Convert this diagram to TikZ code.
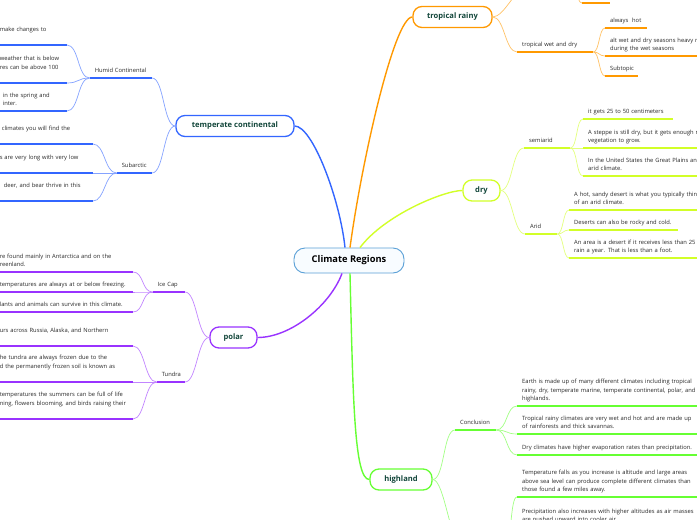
\documentclass[tikz,border=0pt]{standalone}
\usepackage{fontspec}
\setmainfont{Open Sans}
\usetikzlibrary{calc}
\definecolor{trcol}{RGB}{255,153,0}
\definecolor{drycol}{RGB}{210,255,40}
\definecolor{hlcol}{RGB}{102,255,51}
\definecolor{tccol}{RGB}{51,102,255}
\definecolor{polcol}{RGB}{153,51,255}
\definecolor{ctr}{RGB}{90,160,215}
\definecolor{ctrfill}{RGB}{248,252,255}
\definecolor{ink}{RGB}{18,70,58}
\definecolor{txt}{RGB}{40,40,40}

\begin{document}
\begin{tikzpicture}[x=1pt,y=-1pt,
  topic/.style={draw=#1,line width=1.3pt,rounded corners=9pt,fill=white,text=ink,
    font=\fontsize{7.6}{9}\selectfont\bfseries,minimum height=21pt,inner xsep=2pt},
  lbl/.style={font=\fontsize{5.8}{8}\selectfont,text=txt,align=left,text width=#1,
    inner xsep=5pt,inner ysep=3.5pt,execute at end node={\rule[-1.5pt]{0pt}{1pt}}},
  leaf/.style={font=\fontsize{5.8}{8.6}\selectfont,text=txt,align=left,text width=#1,
    inner xsep=5pt,inner ysep=3.5pt,execute at end node={\rule[-1.5pt]{0pt}{1pt}}},
  main/.style={draw=#1,line width=1.4pt},
  twig/.style={draw=#1!60,line width=0.7pt},
  ul/.style={draw=#1,line width=1.7pt}]
\path[fill=white,use as bounding box] (0,0) rectangle (697,520);

% centre
\node[draw=ctr,line width=0.9pt,rounded corners=11pt,fill=ctrfill,minimum width=110pt,
  minimum height=25pt,font=\fontsize{9.3}{11}\selectfont\bfseries] (c) at (349,260.5) {Climate Regions};

% main topics
\node[topic=trcol,minimum width=79pt] (tr) at (452.5,17) {tropical rainy};
\node[topic=drycol,minimum width=37pt] (dry) at (481.5,190.5) {dry};
\node[topic=hlcol,minimum width=62pt] (hl) at (401,479.5) {highland};
\node[topic=tccol,minimum width=118pt] (tc) at (235,126) {temperate continental};
\node[topic=polcol,minimum width=47pt] (pol) at (233.5,337.5) {polar};

\draw[main=tccol] ([xshift=-4pt]c.north) .. controls +(-5,-48) and +(18,0) .. (tc.east);
\draw[main=trcol] ([xshift=1pt]c.north) .. controls +(12,-88) and +(-18,0) .. (tr.west);
\draw[main=drycol] ([xshift=11pt]c.north) .. controls +(25,-33) and +(-18,0) .. (dry.west);
\draw[main=polcol] ([xshift=-7pt]c.south) .. controls +(-12,32) and +(33,0) .. (pol.east);
\draw[main=hlcol] ([xshift=1pt]c.south) .. controls +(3,127) and +(-15,0) .. (hl.west);

% tropical rainy
\node[lbl=66pt,anchor=south west] (twd) at (517,52) {tropical wet and dry};
\node[leaf=32pt,anchor=south west] (tw1) at (605,28) {always~ hot};
\node[leaf=106pt,anchor=south west] (tw2) at (605,56) {alt wet and dry seasons heavy r\\during the wet seasons};
\node[leaf=23pt,anchor=south west] (tw3) at (605,76) {Subtopic};
\coordinate (trtop) at (528,-14);
\coordinate (trk) at (572,-18);
\coordinate (trl) at (582,3);
\coordinate (trle) at (610,3);
\draw[twig=trcol] (tr.east) .. controls +(12,0) and +(-12,0) .. (trtop);
\draw[twig=trcol] (tr.east) .. controls +(12,0) and +(-12,0) .. (twd.south west);
\draw[twig=trcol] (trk) .. controls +(6,0) and +(-6,0) .. (trl);
\draw[ul=trcol] (trl) -- (trle);
\foreach \n in {tw1,tw2,tw3}
  \draw[twig=trcol] (twd.south east) .. controls +(6,0) and +(-6,0) .. (\n.south west);
\foreach \n in {twd,tw1,tw2,tw3}
  \draw[ul=trcol] (\n.south west) -- (\n.south east);

% dry
\node[lbl=36pt,anchor=south west] (semi) at (524,148) {semiarid};
\node[lbl=22pt,anchor=south west] (arid) at (525,234) {Arid};
\node[leaf=80pt,anchor=south west] (sa1) at (583,119) {\mbox{it gets 25 to 50 centimeters}};
\node[leaf=130pt,anchor=south west] (sa2) at (583,148) {A steppe is still dry, but it gets enough r\\vegetation to grow.};
\node[leaf=130pt,anchor=south west] (sa3) at (583,176) {In the United States the Great Plains an\\arid climate.};
\node[leaf=140pt,anchor=south west] (ar1) at (569,210) {A hot, sandy desert is what you typically thin\\of an arid climate.};
\node[leaf=99pt,anchor=south west] (ar2) at (569,230) {Deserts can also be rocky and cold.};
\node[leaf=140pt,anchor=south west] (ar3) at (569,258) {An area is a desert if it receives less than 25\\rain a year. That is less than a foot.};
\foreach \n in {semi,arid}
  \draw[twig=drycol] (dry.east) .. controls +(12,0) and +(-12,0) .. (\n.south west);
\foreach \n in {sa1,sa2,sa3}
  \draw[twig=drycol] (semi.south east) .. controls +(7,0) and +(-7,0) .. (\n.south west);
\foreach \n in {ar1,ar2,ar3}
  \draw[twig=drycol] (arid.south east) .. controls +(6,0) and +(-6,0) .. (\n.south west);
\foreach \n in {semi,arid,sa1,sa2,sa3,ar1,ar2,ar3}
  \draw[ul=drycol] (\n.south west) -- (\n.south east);

% highland
\node[lbl=31pt,anchor=south west] (con) at (455,430) {Conclusion};
\node[leaf=190pt,anchor=south west] (con1) at (517,406) {Earth is made up of many different climates including tropical\\rainy, dry, temperate marine, temperate continental, polar, and\\highlands.};
\node[leaf=190pt,anchor=south west] (con2) at (517,434) {Tropical rainy climates are very wet and hot and are made up\\of rainforests and thick savannas.};
\node[leaf=190pt,anchor=south west] (con3) at (517,455) {Dry climates have higher evaporation rates than precipitation.};
\node[leaf=190pt,anchor=south west] (alt1) at (517,497) {Temperature falls as you increase is altitude and large areas\\above sea level can produce complete different climates than\\those found a few miles away.};
\node[leaf=190pt,anchor=south west] (alt2) at (517,527) {Precipitation also increases with higher altitudes as air masses\\are pushed upward into cooler air.};
\coordinate (hlb) at (462,545);
\coordinate (hlk) at (505,545);
\draw[twig=hlcol] (hl.east) .. controls +(12,0) and +(-12,0) .. (con.south west);
\draw[twig=hlcol] (hl.east) .. controls +(12,0) and +(-12,0) .. (hlb);
\foreach \n in {con1,con2,con3}
  \draw[twig=hlcol] (con.south east) .. controls +(11,0) and +(-11,0) .. (\n.south west);
\foreach \n in {alt1,alt2}
  \draw[twig=hlcol] (hlk) .. controls +(7,0) and +(-7,0) .. (\n.south west);
\foreach \n in {con,con1,con2,con3,alt1,alt2}
  \draw[ul=hlcol] (\n.south west) -- (\n.south east);

% temperate continental
\node[lbl=52pt,anchor=south east] (hum) at (152,78) {Humid Continental};
\node[lbl=25pt,anchor=south east] (subarc) at (152,173) {Subarctic};
\node[leaf=62pt,anchor=south east] (hum1) at (67,45) {make changes to\\ \mbox{}};
\node[leaf=62pt,anchor=south east] (hum2) at (67,83) {weather that is below\\res can be above 100\\ \mbox{}};
\node[leaf=62pt,anchor=south east] (hum3) at (67,111) {\hspace*{3pt}in the spring and\\\hspace*{3pt}inter.};
\node[leaf=88pt,anchor=south east] (sb1) at (93,144) {\hspace*{2pt}climates you will find the\\ \mbox{}};
\node[leaf=88pt,anchor=south east] (sb2) at (93,173) {s are very long with very low\\ \mbox{}};
\node[leaf=88pt,anchor=south east] (sb3) at (93,201) {\hspace*{4pt}deer, and bear thrive in this\\ \mbox{}};
\foreach \n in {hum,subarc}
  \draw[twig=tccol] (tc.west) .. controls +(-12,0) and +(12,0) .. (\n.south east);
\foreach \n in {hum1,hum2,hum3}
  \draw[twig=tccol] (hum.south west) .. controls +(-12,0) and +(12,0) .. (\n.south east);
\foreach \n in {sb1,sb2,sb3}
  \draw[twig=tccol] (subarc.south west) .. controls +(-12,0) and +(12,0) .. (\n.south east);
\foreach \n in {hum,subarc,hum1,hum2,hum3,sb1,sb2,sb3}
  \draw[ul=tccol] (\n.south west) -- (\n.south east);

% polar
\node[lbl=22pt,anchor=south east] (ice) at (185,292) {\mbox{Ice Cap}};
\node[lbl=18pt,anchor=south east] (tun) at (185,382) {Tundra};
\node[leaf=128pt,anchor=south east] (ic1) at (133,272) {re found mainly in Antarctica and on the\\reenland.};
\node[leaf=128pt,anchor=south east] (ic2) at (133,292) {temperatures are always at or below freezing.};
\node[leaf=128pt,anchor=south east] (ic3) at (133,312) {lants and animals can survive in this climate.};
\node[leaf=128pt,anchor=south east] (tu1) at (133,346) {urs across Russia, Alaska, and Northern\\ \mbox{}};
\node[leaf=128pt,anchor=south east] (tu2) at (133,382) {he tundra are always frozen due to the\\d the permanently frozen soil is known as\\ \mbox{}};
\node[leaf=128pt,anchor=south east] (tu3) at (133,419) {temperatures the summers can be full of life\\ning, flowers blooming, and birds raising their\\ \mbox{}};
\foreach \n in {ice,tun}
  \draw[twig=polcol] (pol.west) .. controls +(-12,0) and +(12,0) .. (\n.south east);
\foreach \n in {ic1,ic2,ic3}
  \draw[twig=polcol] (ice.south west) .. controls +(-11,0) and +(11,0) .. (\n.south east);
\foreach \n in {tu1,tu2,tu3}
  \draw[twig=polcol] (tun.south west) .. controls +(-12,0) and +(12,0) .. (\n.south east);
\foreach \n in {ice,tun,ic1,ic2,ic3,tu1,tu2,tu3}
  \draw[ul=polcol] (\n.south west) -- (\n.south east);
\end{tikzpicture}
\end{document}
